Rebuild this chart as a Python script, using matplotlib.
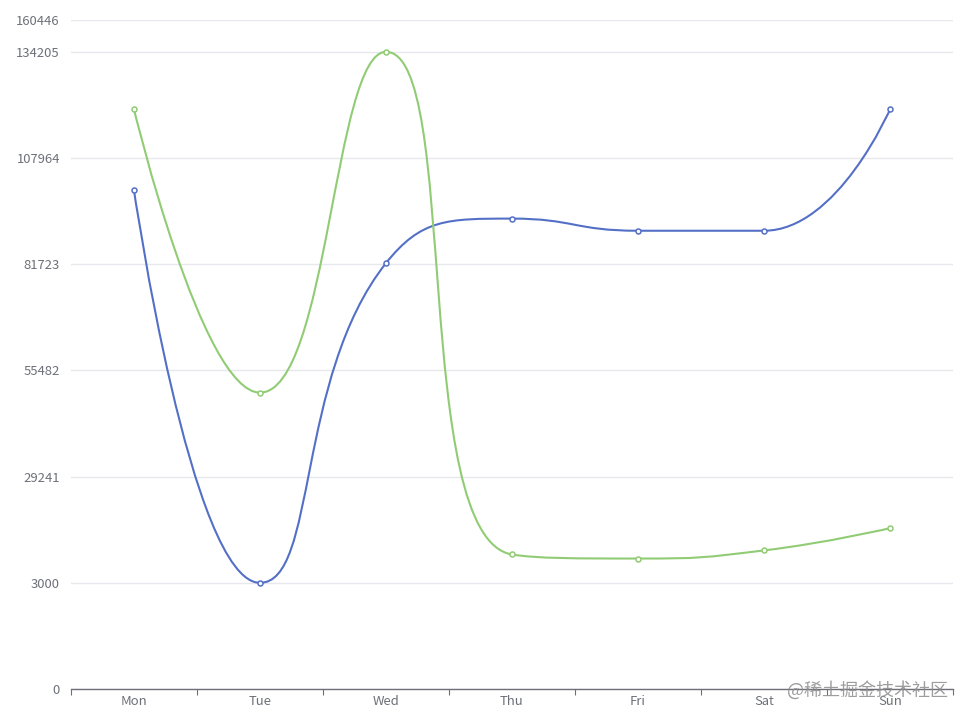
import numpy as np
from matplotlib import pyplot as plt
from matplotlib.path import Path
from matplotlib.patches import PathPatch

plt.rcParams['font.family'] = ['Noto Sans CJK SC', 'DejaVu Sans']

# Chart data
days = ['Mon', 'Tue', 'Wed', 'Thu', 'Fri', 'Sat', 'Sun']
series_blue = [100000, 3000, 82000, 93000, 90000, 90000, 120000]
series_green = [120000, 50000, 134205, 10000, 9000, 11000, 16500]
y_ticks = [0, 3000, 29241, 55482, 81723, 107964, 134205, 160446]

# Piecewise axis as drawn in the reference (0..3000 gets a full interval)
scale_vals = [0, 3000, 134205, 160446]
scale_pos = [0, 1, 6, 6.3]


def forward(v):
    return np.interp(v, scale_vals, scale_pos)


def inverse(p):
    return np.interp(p, scale_pos, scale_vals)


def smooth_controls(pts, smooth=0.5):
    # echarts-style smoothing with control points clamped to neighbour boxes
    verts = [tuple(pts[0])]
    codes = [Path.MOVETO]
    cp0 = pts[0].copy()
    n = len(pts)
    for i in range(1, n):
        x, y = pts[i]
        px, py = pts[i - 1]
        if i == n - 1:
            cp1 = np.array([x, y])
            nxt = None
        else:
            nx, ny = pts[i + 1]
            vx, vy = nx - px, ny - py
            len_prev = np.hypot(x - px, y - py)
            len_next = np.hypot(nx - x, ny - y)
            ratio = len_next / (len_next + len_prev)
            ncx = x + vx * smooth * ratio
            ncy = y + vy * smooth * ratio
            ncx = max(min(ncx, max(nx, x)), min(nx, x))
            ncy = max(min(ncy, max(ny, y)), min(ny, y))
            vx, vy = ncx - x, ncy - y
            c1x = x - vx * len_prev / len_next
            c1y = y - vy * len_prev / len_next
            c1x = max(min(c1x, max(px, x)), min(px, x))
            c1y = max(min(c1y, max(py, y)), min(py, y))
            vx, vy = x - c1x, y - c1y
            nxt = np.array([x + vx * len_next / len_prev, y + vy * len_next / len_prev])
            cp1 = np.array([c1x, c1y])
        verts += [tuple(cp0), tuple(cp1), (x, y)]
        codes += [Path.CURVE4] * 3
        if nxt is not None:
            cp0 = nxt
    return verts, codes


fig = plt.figure(figsize=(9.69, 7.21), dpi=100)
ax = fig.add_axes([71 / 969, 1 - 689 / 721, 882 / 969, 669 / 721])
ax.set_yscale('function', functions=(forward, inverse))
ax.set_xlim(-0.5, len(days) - 0.5)
ax.set_ylim(0, 160446)

ax.set_yticks(y_ticks)
ax.set_yticklabels([str(t) for t in y_ticks])
ax.set_xticks(np.arange(len(days)))
ax.set_xticklabels(days)
ax.yaxis.set_minor_locator(plt.NullLocator())
ax.set_xticks(np.arange(-0.5, len(days), 1), minor=True)

ax.grid(axis='y', color='#E6E8EE', linewidth=1)
ax.set_axisbelow(True)
for side in ['top', 'right', 'left']:
    ax.spines[side].set_visible(False)
ax.spines['bottom'].set_color('#6E7079')
ax.spines['bottom'].set_linewidth(1)
ax.tick_params(axis='y', length=0, pad=8, labelsize=9.4, labelcolor='#6E7079')
ax.tick_params(axis='x', which='major', length=0, pad=4, labelsize=9.4, labelcolor='#6E7079')
ax.tick_params(axis='x', which='minor', length=4, width=0.8, color='#6E7079')

x = np.arange(len(days))
for values, color in [(series_blue, '#5470C6'), (series_green, '#91CC75')]:
    pix = ax.transData.transform(np.column_stack([x, values]))
    verts, codes = smooth_controls(pix)
    data_verts = ax.transData.inverted().transform(np.array(verts))
    patch = PathPatch(Path(data_verts, codes), fill=False, edgecolor=color,
                      linewidth=1.5, capstyle='round', joinstyle='round', zorder=3)
    ax.add_patch(patch)
    ax.plot(x, values, linestyle='none', marker='o', markersize=3.6,
            markerfacecolor='white', markeredgecolor=color, markeredgewidth=1.1,
            zorder=4, clip_on=False)

fig.text(948 / 969, 1 - 690 / 721, '@稀土掘金技术社区', ha='right', va='center',
         fontsize=13, color='#8c8c8c', alpha=0.85)

fig.savefig('out.png', dpi=100)
